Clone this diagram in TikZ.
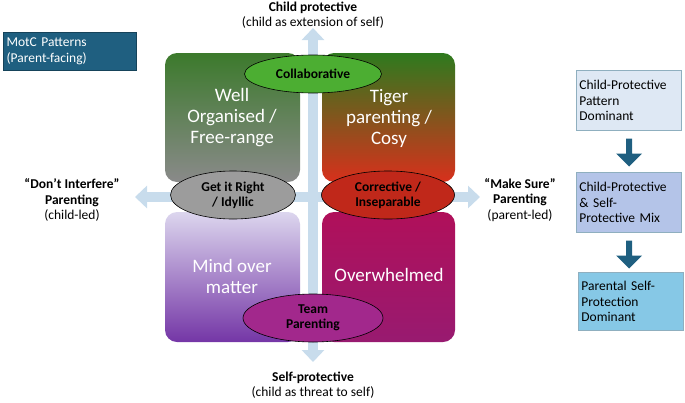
\documentclass[tikz,border=0pt]{standalone}
\usepackage{fontspec}
\setmainfont{Carlito}
\usetikzlibrary{arrows.meta,shapes.arrows,shapes.geometric}
\definecolor{axis}{HTML}{C8DCEC}
\definecolor{arr}{HTML}{1F5F80}
\definecolor{tlA}{HTML}{3C7A2C}\definecolor{tlB}{HTML}{262626}\definecolor{tlC}{HTML}{8A8A8A}
\definecolor{trA}{HTML}{2E7A1E}\definecolor{trB}{HTML}{5A6A18}\definecolor{trC}{HTML}{D8301C}
\definecolor{blA}{HTML}{DCD6EE}\definecolor{blB}{HTML}{D2C6E8}\definecolor{blC}{HTML}{7436A6}
\definecolor{brA}{HTML}{B0105A}\definecolor{brC}{HTML}{981A70}
\definecolor{eG}{HTML}{4CAE32}\definecolor{eGr}{HTML}{9C9C9C}\definecolor{eR}{HTML}{C0281A}\definecolor{eM}{HTML}{A2288C}
\definecolor{bx1}{HTML}{DEE8F4}\definecolor{bx2}{HTML}{B4C4E8}\definecolor{bx3}{HTML}{86C8E6}
\begin{document}
\begin{tikzpicture}[x=1pt,y=-1pt,
  quad/.style={rounded corners=12pt},
  qtext/.style={text=white,font=\fontsize{19}{21}\selectfont,align=center},
  ell/.style={ellipse,draw=black,line width=0.6pt,font=\bfseries\fontsize{13.5}{15}\selectfont,align=center,inner sep=0pt},
  lab/.style={font=\fontsize{13.5}{15.5}\selectfont,align=center},
  rbox/.style={draw=arr!50,line width=0.8pt,minimum width=105pt,text width=99pt,align=left,font=\fontsize{13.5}{15.5}\selectfont,inner sep=3pt},
  darr/.style={single arrow,draw=none,fill=arr,rotate=-90,minimum height=28pt,minimum width=26pt,single arrow head extend=4pt,inner sep=1pt}
]
\useasboundingbox (0,0) rectangle (685,402);
% axes
\draw[axis,line width=10pt,-{Triangle[length=12pt,width=22pt]}] (313,190) -- (313,28);
\draw[axis,line width=10pt,-{Triangle[length=12pt,width=22pt]}] (313,190) -- (313,362);
\draw[axis,line width=10pt,-{Triangle[length=12pt,width=22pt]}] (313,197) -- (135,197);
\draw[axis,line width=10pt,-{Triangle[length=12pt,width=22pt]}] (313,197) -- (480,197);
% quadrants
\shade[quad,top color=tlA,middle color=tlB,bottom color=tlC] (165,53) rectangle (300,182);
\shade[quad,top color=trA,middle color=trB,bottom color=trC] (322,53) rectangle (455,182);
\shade[quad,top color=blA,middle color=blB,bottom color=blC] (165,212) rectangle (300,342);
\shade[quad,top color=brA,bottom color=brC] (322,212) rectangle (455,342);
\node[qtext] (tl) at (232,118) {Well\\Organised /\\Free-range};
\node[qtext] (tr) at (389,118) {Tiger\\parenting /\\Cosy};
\node[qtext] (bl) at (232,276) {Mind over\\matter};
\node[qtext] (br) at (389,275) {Overwhelmed};
% ellipses
\node[ell,fill=eG,minimum width=137pt,minimum height=38pt] (col) at (313,74) {Collaborative};
\node[ell,fill=eGr,minimum width=125pt,minimum height=48pt] (get) at (233,195) {Get it Right\\/ Idyllic};
\node[ell,fill=eR,minimum width=133pt,minimum height=48pt] (cor) at (388,195) {Corrective /\\Inseparable};
\node[ell,fill=eM,minimum width=140pt,minimum height=48pt] (team) at (313,318) {Team\\Parenting};
% axis labels
\node[lab] (top) at (313,15) {\textbf{Child protective}\\(child as extension of self)};
\node[lab] (bot) at (313,385) {\textbf{Self-protective}\\(child as threat to self)};
\node[lab] (left) at (72,200) {\textbf{“Don’t Interfere”}\\\textbf{Parenting}\\(child-led)};
\node[lab] (right) at (520,200) {\textbf{“Make Sure”}\\\textbf{Parenting}\\(parent-led)};
% MotC box
\node[draw=arr!70!black,fill=arr,text=white,minimum width=132pt,minimum height=38pt,text width=126pt,align=left,font=\fontsize{13.5}{15.5}\selectfont,anchor=north west] (motc) at (3,32) {MotC Patterns\\(Parent-facing)};
% right column
\node[rbox,fill=bx1,minimum height=60pt,anchor=north west] (b1) at (576,70) {Child-Protective\\Pattern\\Dominant};
\node[rbox,fill=bx2,minimum height=60pt,anchor=north west] (b2) at (576,172) {Child-Protective\\\& Self-\\Protective Mix};
\node[rbox,fill=bx3,minimum height=58pt,anchor=north west] (b3) at (578,272) {Parental Self-\\Protection\\Dominant};
\node[darr] (a1) at (629,151) {};
\node[darr] (a2) at (629,253) {};
\end{tikzpicture}
\end{document}
